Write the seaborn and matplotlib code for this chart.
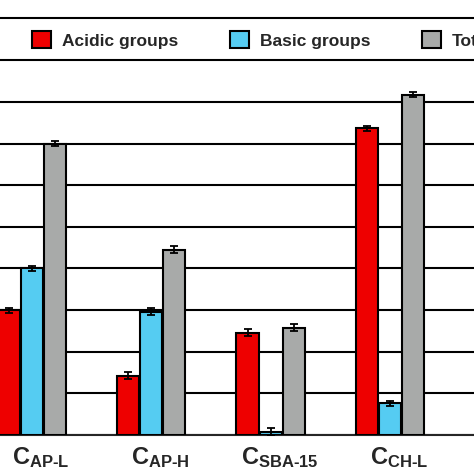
import matplotlib
matplotlib.use("Agg")
import matplotlib.pyplot as plt
import matplotlib.transforms as mtrans
import seaborn as sns
import pandas as pd
from matplotlib.patches import Patch
from matplotlib.lines import Line2D

samples = ["AP-L", "AP-H", "SBA-15", "CH-L"]
series = ["Acidic groups", "Basic groups", "Total"]
acidic = [3.0, 1.43, 2.46, 7.37]
basic = [4.0, 2.96, 0.08, 0.76]
total = [7.0, 4.45, 2.58, 8.17]
err_acidic = [0.06, 0.08, 0.08, 0.06]
err_basic = [0.06, 0.08, 0.08, 0.06]
err_total = [0.06, 0.08, 0.08, 0.06]
colors = ["#ee0000", "#55ccf2", "#a8aaa9"]

sns.set_style("white")
plt.rcParams['font.family'] = ['Liberation Sans', 'DejaVu Sans']
plt.rcParams['mathtext.fontset'] = 'custom'
plt.rcParams['mathtext.rm'] = 'Liberation Sans:bold'
plt.rcParams['mathtext.bf'] = 'Liberation Sans:bold'
plt.rcParams['mathtext.it'] = 'Liberation Sans:bold'

rows = []
for s, vals in zip(series, [acidic, basic, total]):
    for c, v in zip(samples, vals):
        rows.append({"sample": c, "series": s, "value": v})
df = pd.DataFrame(rows)

fig = plt.figure(figsize=(4.74, 4.74), dpi=100)
ax = fig.add_axes([0, 0.082, 1, 0.791])
sns.barplot(data=df, x="sample", y="value", hue="series", palette=colors,
            saturation=1, width=0.58, gap=0.04, edgecolor="black", linewidth=1.5,
            errorbar=None, ax=ax, legend=False, zorder=3)
errs = err_acidic + err_basic + err_total
vals = acidic + basic + total
for p, e, v in zip(ax.patches, errs, vals):
    cx = p.get_x() + p.get_width() / 2
    ax.errorbar(cx, v, yerr=e, color="black", capsize=3, lw=1.3, capthick=1.3, zorder=4)

ax.set_ylim(0, 9)
ax.set_xlim(-0.268, 3.705)
ax.set_yticks(range(0, 9))
ax.yaxis.grid(True, color="black", lw=1.5, zorder=0)
ax.set_axisbelow(True)
ax.tick_params(left=False, labelleft=False, bottom=False, labelsize=17, pad=4)
ax.set_xticks(range(4))
ax.set_xticklabels([r"$\mathrm{C}_{\text{%s}}$" % s for s in samples])
offset = mtrans.ScaledTranslation(9/100, 0, fig.dpi_scale_trans)
for lab in ax.get_xticklabels():
    lab.set_transform(lab.get_transform() + offset)
for sp in ["top", "right", "left"]:
    ax.spines[sp].set_visible(False)
ax.spines["bottom"].set_linewidth(1.5)
ax.set_xlabel("")
ax.set_ylabel("")

fig.add_artist(Line2D([0, 1], [1 - 18/474, 1 - 18/474], color="black", lw=1.5))
fig.add_artist(Line2D([0, 1], [1 - 60/474, 1 - 60/474], color="black", lw=1.5))
handles = [Patch(facecolor=c, edgecolor="black", linewidth=1.5) for c in colors]
fig.legend(handles, series, loc="center left", bbox_to_anchor=(0.035, 1 - 40/474),
           ncol=3, frameon=False, prop={"weight": "bold", "size": 12.5},
           handlelength=1.1, handleheight=1.1, columnspacing=3.0, handletextpad=0.6)

fig.savefig("out.png", dpi=100)
